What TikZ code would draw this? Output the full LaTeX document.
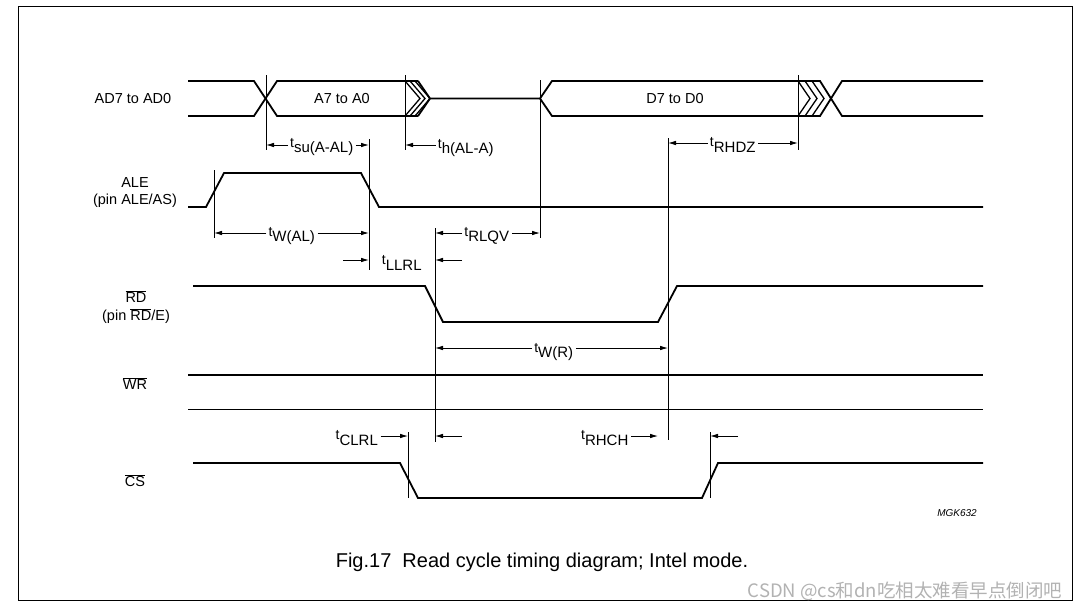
\documentclass[tikz,border=0pt]{standalone}
\usepackage{fontspec}
\setmainfont{Liberation Sans}
\newfontfamily\cjk{Noto Sans CJK SC}
\usetikzlibrary{arrows.meta}
\newcommand{\tsub}[1]{t\textsubscript{\fontsize{15}{17}\selectfont #1}}
\begin{document}
\begin{tikzpicture}[x=1pt,y=-1pt,
  sig/.style={line width=1.8pt,line join=miter},
  ref/.style={line width=0.7pt},
  dim/.style={line width=0.8pt,-{Latex[length=8pt,width=4.5pt]}},
  lbl/.style={font=\fontsize{14.5}{17}\selectfont,inner sep=1pt},
  tl/.style={font=\fontsize{14}{16}\selectfont,inner sep=2pt}]
\useasboundingbox (0,0) rectangle (1090,608);
\draw[line width=0.7pt] (18,6) rectangle (1072,600);
% AD bus
\draw[sig] (188,81) -- (254,81) -- (277,116) -- (418,116);
\draw[sig] (188,116) -- (254,116) -- (277,81) -- (418,81);
\foreach \i in {0,1,2}{\draw[line width=1.3pt] ({405+5*\i},81) -- ({420+5*\i},98.5) -- ({405+5*\i},116);}
\draw[sig] (418,81) -- (430,98.5) -- (540,98.5) -- (552,81) -- (820,81) -- (842,116) -- (983,116);
\draw[sig] (418,116) -- (430,98.5);
\draw[sig] (540,98.5) -- (552,116) -- (820,116) -- (842,81) -- (983,81);
\foreach \i in {0,1,2}{\draw[line width=1.3pt] ({798+7*\i},81) -- ({810+7*\i},98.5) -- ({798+7*\i},116);}
\node[lbl] (adA) at (342,98.5) {A7 to A0};
\node[lbl] (adD) at (675,98.5) {D7 to D0};
% ALE
\draw[sig] (188,207) -- (206,207) -- (224,173) -- (361,173) -- (379,207) -- (983,207);
% RD
\draw[sig] (193,286) -- (425,286) -- (443,322) -- (658,322) -- (677,286) -- (983,286);
% WR
\draw[sig] (188,375) -- (983,375);
\draw[ref] (188,409) -- (983,409);
% CS
\draw[sig] (193,463) -- (400,463) -- (418,498) -- (702,498) -- (718,463) -- (983,463);
% reference verticals
\draw[ref] (266,75) -- (266,150);
\draw[ref] (405,75) -- (405,150);
\draw[ref] (540,80) -- (540,238);
\draw[ref] (798,75) -- (798,150);
\draw[ref] (668,138) -- (668,440);
\draw[ref] (369,139) -- (369,270);
\draw[ref] (214,170) -- (214,238);
\draw[ref] (435,228) -- (435,442);
\draw[ref] (408,432) -- (408,498);
\draw[ref] (710,432) -- (710,498);
% dimension labels
\node[tl] (tsu) at (322,147) {\tsub{su(A-AL)}};
\node[tl] (th) at (466,148) {\tsub{h(AL-A)}};
\node[tl] (trhdz) at (733,145) {\tsub{RHDZ}};
\node[tl] (twal) at (292,236) {\tsub{W(AL)}};
\node[tl] (trlqv) at (487,236) {\tsub{RLQV}};
\node[tl] (tllrl) at (402,263) {\tsub{LLRL}};
\node[tl] (twr) at (554,352) {\tsub{W(R)}};
\node[tl] (tclrl) at (357,438) {\tsub{CLRL}};
\node[tl] (trhch) at (605,438) {\tsub{RHCH}};
% arrows
\draw[dim] (tsu.west|-0,145) -- (266,145);
\draw[dim] (tsu.east|-0,145) -- (369,145);
\draw[dim] (th.west|-0,145) -- (405,145);
\draw[dim] (trhdz.west|-0,143) -- (668,143);
\draw[dim] (trhdz.east|-0,143) -- (798,143);
\draw[dim] (twal.west|-0,233) -- (214,233);
\draw[dim] (twal.east|-0,233) -- (369,233);
\draw[dim] (trlqv.west|-0,233) -- (435,233);
\draw[dim] (trlqv.east|-0,233) -- (540,233);
\draw[dim] (343,260) -- (369,260);
\draw[dim] (462,260) -- (435,260);
\draw[dim] (twr.west|-0,348) -- (435,348);
\draw[dim] (twr.east|-0,348) -- (668,348);
\draw[dim] (tclrl.east|-0,436) -- (408,436);
\draw[dim] (462,436) -- (435,436);
\draw[dim] (trhch.east|-0,436) -- (658,436);
\draw[dim] (738,436) -- (710,436);
% signal names
\node[lbl] (nad) at (133,99) {AD7 to AD0};
\node[lbl] (nale) at (135,183) {ALE};
\node[lbl] (nale2) at (135,201) {(pin ALE/AS)};
\node[lbl] (nrd) at (136,297) {$\overline{\mbox{RD}}$};
\node[lbl] (nrd2) at (136,316) {(pin $\overline{\mbox{RD}}$/E)};
\node[lbl] (nwr) at (135,384) {$\overline{\mbox{WR}}$};
\node[lbl] (ncs) at (135,481) {$\overline{\mbox{CS}}$};
\node[font=\fontsize{10}{11}\selectfont\itshape] (mgk) at (957,513) {MGK632};
\node[font=\fontsize{20}{22}\selectfont] (cap) at (542,562) {Fig.17\ \ Read cycle timing diagram; Intel mode.};
\node[font=\cjk\fontsize{18.5}{20}\selectfont,text=gray!60] (wm) at (905,591) {CSDN @cs和dn吃相太难看早点倒闭吧};
\end{tikzpicture}
\end{document}
